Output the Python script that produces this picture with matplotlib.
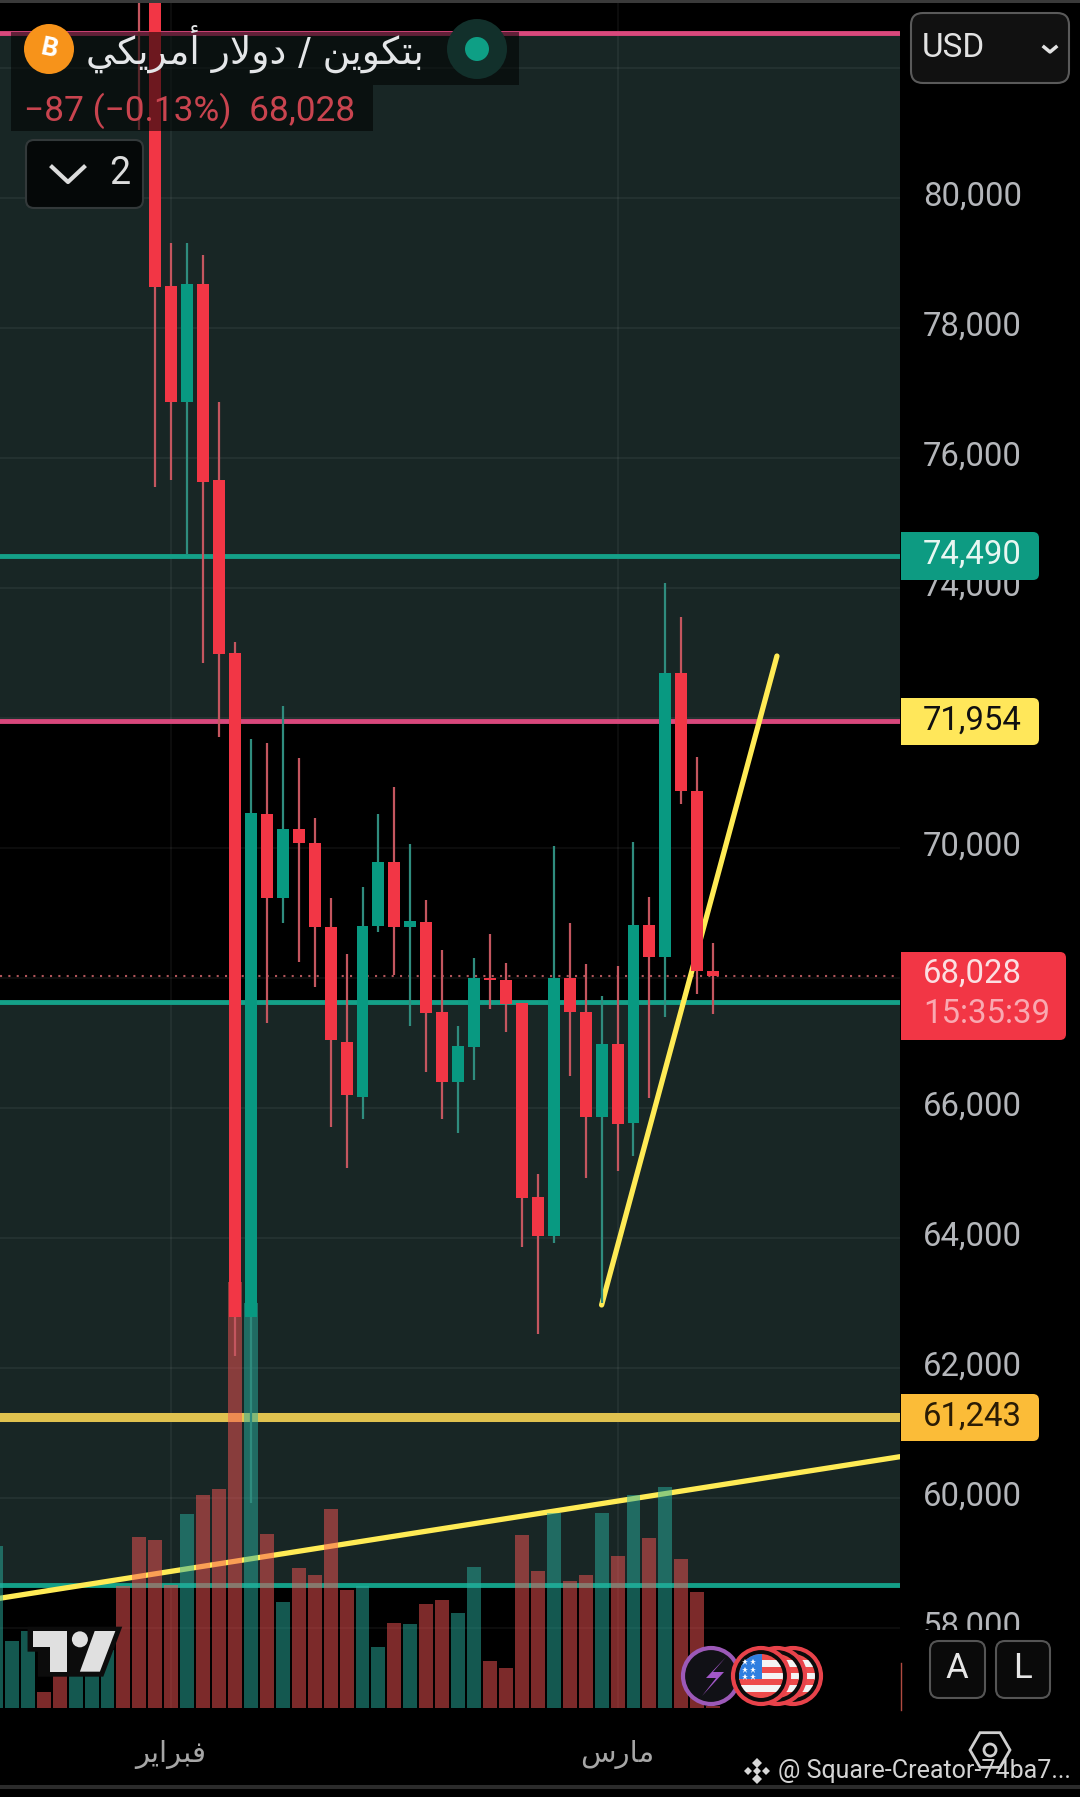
import matplotlib
matplotlib.use('Agg')
import numpy as np
from matplotlib import pyplot as plt
from matplotlib.patches import Circle, FancyBboxPatch, Polygon, Rectangle
from matplotlib.transforms import ScaledTranslation

plt.rcParams['font.family'] = ['Roboto', 'DejaVu Sans']

# candles, index 0 is the big drop
candle_idx = list(range(-6, 31))
opens = [83600, 83400, 78651, 76871, 78682, 75666, 73000, 62792, 70523, 69231, 70292, 70086, 68794, 67025, 66178, 68805,
         69794, 68785, 68871, 67477, 66409, 66948, 68010, 67974, 67625, 64631, 64040, 68000, 67486, 65861, 66985, 65769,
         68820, 68332, 72692, 70882, 68117]
closes = [83200, 78640, 76871, 78682, 75640, 72989, 62792, 70538, 69231, 70292, 70077, 68785, 67051, 66205, 68809, 69794,
          68785, 68882, 67462, 66409, 66963, 68000, 67980, 67600, 64615, 64040, 68000, 67477, 65861, 66985, 65758, 68820,
          68332, 72692, 70882, 68112, 68028]
highs = [83900, 83600, 79317, 79308, 79128, 76871, 73178, 71677, 71625, 72189, 71385, 70462, 69231, 68369, 69400, 70523,
         70938, 70062, 69205, 68435, 67271, 68308, 68677, 68231, 67625, 64985, 70040, 68846, 68215, 67732, 68194, 70102,
         69255, 74077, 73563, 71409, 68538]
lows = [81051, 75554, 75666, 74531, 72855, 71717, 62194, 59921, 67308, 68846, 68255, 67871, 65717, 65081, 65828, 68708,
        68051, 67271, 66554, 65838, 65626, 66435, 67523, 67169, 63871, 62523, 63923, 66501, 64932, 63000, 65040, 65266,
        66154, 67400, 70677, 67754, 67451]

# volume, read as bar height on the picture
vol_idx = list(range(-15, 31))
volumes = [162, 67, 77, 16, 32, 50, 55, 58, 122, 171, 168, 123, 194, 213, 219, 426, 405, 174, 106, 140, 133, 199, 118,
           122, 61, 85, 84, 104, 108, 95, 141, 47, 40, 173, 137, 195, 127, 133, 195, 152, 213, 170, 221, 149, 116, 2]
vol_dir = 'uuuddu' 'uudddd' 'udddud' 'udddd' 'uudud' 'duudd' 'ddudd' 'ududu' 'ddd'

# drawn levels and trend lines
pink_levels = [82543, 71954]
green_levels = [74490, 67640, 58666]
gold_level = 61243
last_price = 68028
steep_x = [23, 34]
steep_y = [62974, 72958]
long_x = [-14.75, 41.72]
long_y = [58462, 60640]

price_ticks = list(range(58000, 84000, 2000))
month_pos = [-4, 24]

PX_W, PX_H, AX_BOTTOM = 1080, 1797, 1708.3
X_MIN, X_MAX = -14.743, 41.72
Y_MAX = 83051
Y_MIN = 56769

RED, GREEN = '#f23645', '#089981'
WICK_RED, WICK_GREEN = '#c4565f', '#2f8c7e'
BAND = '#182625'

forms = {
    'ب': 'ﺏﺐﺑﺒ', 'ت': 'ﺕﺖﺗﺘ', 'ك': 'ﻙﻚﻛﻜ', 'ي': 'ﻱﻲﻳﻴ', 'ن': 'ﻥﻦﻧﻨ', 'ل': 'ﻝﻞﻟﻠ', 'م': 'ﻡﻢﻣﻤ', 'ف': 'ﻑﻒﻓﻔ', 'س': 'ﺱﺲﺳﺴ',
    'و': 'ﻭﻮ', 'د': 'ﺩﺪ', 'ا': 'ﺍﺎ', 'ر': 'ﺭﺮ', 'أ': 'ﺃﺄ', 'ﻻ': 'ﻻﻼ',
}


def arabic(s):
    # matplotlib does no shaping, so pick the joined forms and reverse
    s = s.replace('لا', 'ﻻ')
    out = []
    for i, c in enumerate(s):
        if c not in forms:
            out.append(c)
            continue
        prev = s[i - 1] if i > 0 else ' '
        nxt = s[i + 1] if i < len(s) - 1 else ' '
        join_prev = prev in forms and len(forms[prev]) == 4
        join_next = nxt in forms and len(forms[c]) == 4
        f = forms[c]
        if join_prev and join_next:
            out.append(f[3])
        elif join_prev:
            out.append(f[1])
        elif join_next:
            out.append(f[2])
        else:
            out.append(f[0])
    return ''.join(out)[::-1]


fig = plt.figure(figsize=(PX_W / 100, PX_H / 100), dpi=100, facecolor='black')
ax = fig.add_axes([0, (PX_H - AX_BOTTOM) / PX_H, 900 / PX_W, AX_BOTTOM / PX_H], facecolor='black')
ax.set_xlim(X_MIN, X_MAX)
ax.set_ylim(Y_MIN, Y_MAX)
for s in ax.spines.values():
    s.set_visible(False)

# teal bands between the levels
ax.axhspan(pink_levels[1], pink_levels[0], color=BAND, lw=0, zorder=0)
ax.axhspan(green_levels[2], green_levels[1], color=BAND, lw=0, zorder=0)

ax.set_axisbelow(True)
ax.grid(True, color='white', alpha=0.06, lw=1.2)

for v in pink_levels:
    ax.axhline(v, color='#d9487c', lw=3.5, zorder=2)
for v in green_levels:
    ax.axhline(v, color='#14a088', lw=3.5, zorder=2)
ax.axhline(gold_level, color='#e0c24f', lw=6.5, zorder=2)
ax.axhline(last_price, color='#b0555a', lw=1.5, ls=(0, (1, 3)), zorder=2)
ax.plot(long_x, long_y, color='#ffeb55', lw=3.8, solid_capstyle='round', zorder=2)
ax.plot(steep_x, steep_y, color='#ffeb55', lw=3.8, solid_capstyle='round', zorder=2)

# volume sits at the bottom of the pane, half transparent
vol_scale = (Y_MAX - Y_MIN) / AX_BOTTOM
vol_colors = ['#28b0a0' if d == 'u' else '#f85454' for d in vol_dir]
ax.bar(vol_idx, np.array(volumes) * vol_scale, bottom=Y_MIN, width=0.875, color=vol_colors, alpha=0.5, lw=0, zorder=2.5)

for x, o, c, h, l in zip(candle_idx, opens, closes, highs, lows):
    up = c >= o
    ax.vlines(x, l, h, color=WICK_GREEN if up else WICK_RED, lw=1.6, zorder=3)
    top, bot = max(o, c), min(o, c)
    ax.bar(x, top - bot, bottom=bot, width=0.75, color=GREEN if up else RED, lw=0, zorder=3.2)

ax.yaxis.tick_right()
ax.set_yticks(price_ticks)
# the 82,000 label is hidden behind the currency switch
ax.set_yticklabels(['' if v == 82000 else f'{v:,}' for v in price_ticks])
ax.tick_params(axis='y', length=0, pad=16.5, labelsize=23.7, labelcolor='#b4b6ba')
shift = ScaledTranslation(0, 5 / 100, fig.dpi_scale_trans)
for t in ax.get_yticklabels():
    t.set_transform(t.get_transform() + shift)
ax.set_xticks(month_pos)
ax.set_xticklabels([arabic('فبراير'), arabic('مارس')])
ax.tick_params(axis='x', length=0, pad=23, labelsize=21, labelcolor='#a6a6a6')
for t in ax.get_xticklabels():
    t.set_fontfamily('DejaVu Sans')

# everything else is screen furniture, in pixels
ui = fig.add_axes([0, 0, 1, 1], zorder=10)
ui.set_xlim(0, PX_W)
ui.set_ylim(PX_H, 0)
ui.axis('off')


def box(x0, y0, x1, y1, fc, ec='none', r=6, lw=0, alpha=None, z=1):
    p = FancyBboxPatch((x0 + r, y0 + r), x1 - x0 - 2 * r, y1 - y0 - 2 * r, boxstyle=f'round,pad={r},rounding_size={r}',
                       fc=fc, ec=ec, lw=lw, alpha=alpha, zorder=z)
    ui.add_patch(p)
    return p


def label(text, y0, y1, x1, fc, tc):
    box(901, y0, x1, y1, fc, r=6, z=3)
    ui.add_patch(Rectangle((901, y0), 20, y1 - y0, fc=fc, lw=0, zorder=3))
    ui.text(923, (y0 + y1) / 2 - 1, text, color=tc, fontsize=23.7, va='center', zorder=4)


ui.add_patch(Rectangle((0, 0), PX_W, 3, fc='#3a3a3a', lw=0))
ui.add_patch(Rectangle((0, 1785), PX_W, 4, fc='#2b2b2b', lw=0))
ui.add_patch(Rectangle((903, 1630), 177, 90, fc='black', lw=0, zorder=1))
ui.plot([901, 901], [1663, 1710], color='#b04a40', lw=1)

# header
ui.add_patch(Rectangle((11, 32), 508, 53, fc='black', alpha=0.55, lw=0))
ui.add_patch(Rectangle((11, 85), 362, 46, fc='black', alpha=0.55, lw=0))
ui.add_patch(Circle((49, 49), 25, fc='#f7931a', lw=0, zorder=2))
ui.text(49, 49, 'B', color='white', fontsize=19, fontweight='bold', rotation=-12, ha='center', va='center', zorder=3)
ui.text(255, 49, arabic('بتكوين / دولار أمريكي'), color='#e4e6e8', fontsize=27, family='DejaVu Sans', ha='center', va='center', zorder=3)
ui.add_patch(Circle((477, 49), 30, fc='#12302b', lw=0, zorder=2))
ui.add_patch(Circle((477, 49), 12, fc='#0e9f85', lw=0, zorder=3))
ui.text(24, 111, '−87 (−0.13%)  68,028', color='#c9444f', fontsize=25.4, va='center', zorder=3)
box(26, 140, 143, 208, '#050808', ec='#33393a', r=8, lw=1.5, z=2)
ui.plot([52, 68, 84], [167, 182, 167], color='#dcdcdc', lw=3, zorder=3)
ui.text(120, 174, '2', color='#dcdcdc', fontsize=27, ha='center', va='center', zorder=3)

# currency switch
box(911, 13, 1069, 83, '#111111', ec='#5a5a5a', r=12, lw=1.5, z=2)
ui.text(922, 48, 'USD', color='#e2e2e2', fontsize=24, va='center', zorder=3)
ui.plot([1044, 1050, 1056], [47, 52, 47], color='#e2e2e2', lw=2.5, zorder=3)

label('74,490', 532, 580, 1039, '#0d9b82', '#e8f7f2')
label('71,954', 698, 745, 1039, '#ffe75a', '#101010')
label('61,243', 1394, 1441, 1039, '#fbbc38', '#2a1c05')
box(901, 952, 1066, 1040, RED, r=6, z=3)
ui.add_patch(Rectangle((901, 952), 20, 88, fc=RED, lw=0, zorder=3))
ui.text(923, 974, '68,028', color='#fbdfe2', fontsize=23.7, va='center', zorder=4)
ui.text(923, 1014, '15:35:39', color='#f9a9b1', fontsize=23.7, va='center', zorder=4)

# tradingview mark


def zpt(pts):
    return [(x / 2.904, 1450 + y / 3) for x, y in pts]


ui.add_patch(Polygon(zpt([(80, 530), (355, 530), (300, 680), (110, 680), (110, 605), (80, 605)]), fc='#0c0c0c', lw=0, zorder=2))
ui.add_patch(Polygon(zpt([(95, 543), (195, 543), (195, 665), (145, 665), (145, 592), (95, 592)]), fc='#e0e0e0', lw=0, zorder=3))
ui.add_patch(Polygon(zpt([(275, 543), (335, 543), (290, 665), (232, 665)]), fc='#e0e0e0', lw=0, zorder=3))
ui.add_patch(Circle((232 / 2.904, 1450 + 568 / 3), 8, fc='#e0e0e0', lw=0, zorder=3))

# event icons
ui.add_patch(Circle((711, 1676), 28, fc='#111116', ec='#9c59b8', lw=3, zorder=4))
ui.add_patch(Polygon([(726, 1657), (706, 1678), (716, 1678), (702, 1696), (724, 1672), (713, 1672)], fc='#a257c8', lw=0, zorder=5))


def flag(cx, cy, z):
    c = Circle((cx, cy), 28, fc='#0b0b0b', ec='#e8424a', lw=3, zorder=z)
    ui.add_patch(c)
    inner = Circle((cx, cy), 22, transform=ui.transData)
    for k in range(7):
        col = '#ee4b4b' if k % 2 == 0 else '#f4f4f4'
        r = Rectangle((cx - 23, cy - 22 + k * 44 / 7), 46, 44 / 7 + 0.5, fc=col, lw=0, zorder=z + 0.1)
        ui.add_patch(r)
        r.set_clip_path(inner)
    r = Rectangle((cx - 23, cy - 22), 24, 25, fc='#2f7fe0', lw=0, zorder=z + 0.2)
    ui.add_patch(r)
    r.set_clip_path(inner)
    for sx, sy in [(-16, -14), (-8, -14), (-16, -6), (-8, -6), (-16, 1), (-8, 1)]:
        ui.plot(cx + sx, cy + sy, marker='*', ms=5, color='white', mew=0, zorder=z + 0.3)


flag(793, 1676, 5)
flag(777, 1676, 6)
flag(761, 1676, 7)

# A / L buttons
box(930, 1641, 985, 1698, '#0a0a0a', ec='#555555', r=9, lw=1.5, z=2)
box(996, 1641, 1050, 1698, '#0a0a0a', ec='#555555', r=9, lw=1.5, z=2)
ui.text(957, 1669, 'A', color='#e6e6e6', fontsize=25, ha='center', va='center', zorder=3)
ui.text(1023, 1669, 'L', color='#e6e6e6', fontsize=25, ha='center', va='center', zorder=3)

# settings hexagon and watermark
ang = np.deg2rad(np.arange(0, 360, 60))
ui.add_patch(Polygon(np.c_[990 + 20 * np.cos(ang), 1750 + 20 * np.sin(ang)], fc='none', ec='#cfcfcf', lw=2, zorder=2))
ui.add_patch(Circle((990, 1750), 6, fc='none', ec='#cfcfcf', lw=2, zorder=2))
for dx, dy, s in [(0, -8, 5), (0, 8, 5), (-9, 0, 4), (9, 0, 4), (0, 0, 4)]:
    ui.plot(757 + dx, 1771 + dy, marker='D', ms=s, color='#d8d8d8', mew=0, zorder=3)
ui.text(778, 1771, '@ Square-Creator-74ba7...', color='#d4d4d4', fontsize=18, va='center', zorder=3)

fig.savefig('out.png', dpi=100, facecolor='black')
